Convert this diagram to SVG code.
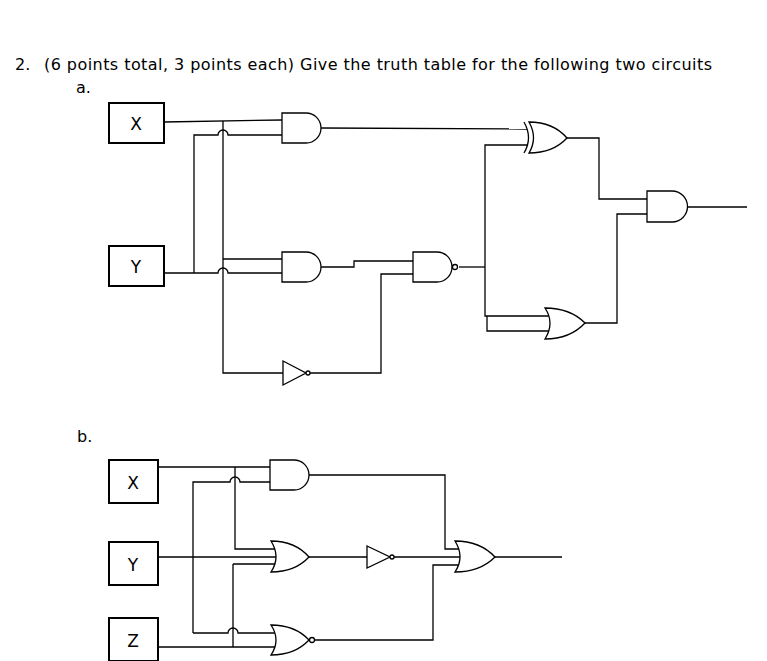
<svg xmlns="http://www.w3.org/2000/svg" width="767" height="661" viewBox="0 0 767 661">
<style>
.w{fill:none;stroke:#000;stroke-width:1.3}
.g{fill:#fff;stroke:#000;stroke-width:1.3}
.b{fill:#fff;stroke:#000;stroke-width:2}
.t{font-family:"DejaVu Sans",Verdana,sans-serif;font-size:16px;fill:#000}
.l{font-family:"DejaVu Sans",Verdana,sans-serif;font-size:17px;fill:#000;text-anchor:middle}
</style>
<rect width="767" height="661" fill="#fff"/>
<text class="t" x="15" y="70">2.</text>
<text class="t" x="44" y="70" textLength="668">(6 points total, 3 points each) Give the truth table for the following two circuits</text>
<text class="t" x="76" y="93">a.</text>
<text class="t" x="77" y="442">b.</text>
<g id="connectors">
<path class="w" d="M164,122 L282,120"/>
<path class="w" d="M194,273 V135 H218 A5,5 0 0 1 228,135 H282"/>
<path class="w" d="M223,121 V373 H283"/>
<path class="w" d="M223,259 H282"/>
<path class="w" d="M164,273 H218 A5,5 0 0 1 228,273 H282"/>
<path class="w" d="M321,128 L527,129"/>
<path class="w" d="M321,267 H354 V261 H413"/>
<path class="w" d="M310,373 H381 V274 H413"/>
<path class="w" d="M459,267 H485"/>
<path class="w" d="M528,145 H485 V316 H552"/>
<path class="w" d="M487,316 V331 H552"/>
<path class="w" d="M567,138 H599 V199 H647"/>
<path class="w" d="M585,323 H617 V214 H647"/>
<path class="w" d="M687,207 H747"/>
<path class="w" d="M158,467 H270"/>
<path class="w" d="M235,467 V549 H276"/>
<path class="w" d="M193,633 V482 H230 A5,5 0 0 1 240,482 H270"/>
<path class="w" d="M193,633 H228 A5,5 0 0 1 238,633 H276"/>
<path class="w" d="M158,557 H277"/>
<path class="w" d="M233,564 H276 M233,564 V647"/>
<path class="w" d="M158,647 H276"/>
<path class="w" d="M309,557 H367"/>
<path class="w" d="M394,557 H460"/>
<path class="w" d="M309,475 H445 V549 H460"/>
<path class="w" d="M315,640 H433 V565 H460"/>
<path class="w" d="M495,557 H562"/>
</g>
<g id="nodeXa"><rect class="b" x="109" y="103" width="55" height="40"/><text class="l" x="136" y="130">X</text></g>
<g id="nodeYa"><rect class="b" x="109" y="246" width="55" height="40"/><text class="l" x="136" y="273">Y</text></g>
<g id="and1a"><path class="g" d="M282,113 H306 A15,15 0 0 1 306,143 H282 Z"/></g>
<g id="and2a"><path class="g" d="M282,252 H306 A15,15 0 0 1 306,282 H282 Z"/></g>
<g id="nanda"><path class="g" d="M413,252 H437 A15,15 0 0 1 437,282 H413 Z"/><circle class="g" cx="455" cy="267" r="2.5"/></g>
<g id="nota"><path class="g" d="M283,361 L306,373 L283,385 Z"/><circle class="g" cx="308" cy="373" r="2"/></g>
<g id="xora"><path class="g" d="M529,122 Q553,122 567,138 Q553,153 529,153 Q538,138 529,122 Z"/><path class="w" d="M524,122 Q533,138 524,153"/></g>
<g id="ora"><path class="g" d="M545,308 Q570,308 585,323 Q570,339 545,339 Q555,323 545,308 Z"/></g>
<g id="and3a"><path class="g" d="M647,191 H672 A15.5,15.5 0 0 1 672,222 H647 Z"/></g>
<g id="nodeXb"><rect class="b" x="109" y="460" width="49" height="43"/><text class="l" x="133" y="489">X</text></g>
<g id="nodeYb"><rect class="b" x="109" y="542" width="49" height="43"/><text class="l" x="133" y="571">Y</text></g>
<g id="nodeZb"><rect class="b" x="109" y="618" width="49" height="43"/><text class="l" x="133" y="647">Z</text></g>
<g id="andb"><path class="g" d="M270,460 H294 A15,15 0 0 1 294,490 H270 Z"/></g>
<g id="or1b"><path class="g" d="M271,541 Q295,541 309,557 Q295,572 271,572 Q281,557 271,541 Z"/></g>
<g id="norb"><path class="g" d="M271,625 Q295,625 309,640 Q295,655 271,655 Q281,640 271,625 Z"/><circle class="g" cx="312" cy="640" r="2.5"/></g>
<g id="notb"><path class="g" d="M367,546 L390,557 L367,568 Z"/><circle class="g" cx="392" cy="557" r="2"/></g>
<g id="or2b"><path class="g" d="M455,541 Q480,541 495,557 Q480,572 455,572 Q465,557 455,541 Z"/></g>
</svg>
